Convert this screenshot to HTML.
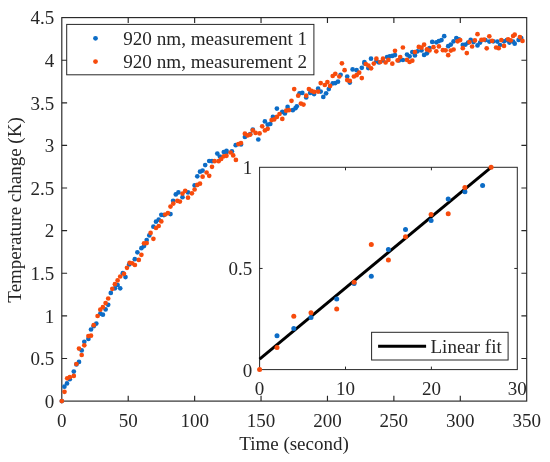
<!DOCTYPE html>
<html><head><meta charset="utf-8"><title>Temperature change</title>
<style>html,body{margin:0;padding:0;background:#fff}svg{display:block}text{font-family:"Liberation Serif","Times New Roman",serif;fill:#262626}</style></head><body>
<svg width="550" height="462" viewBox="0 0 550 462">
<rect width="550" height="462" fill="#fff"/>
<g stroke="#262626" stroke-width="1.15" fill="none">
<rect x="61.8" y="17.6" width="464.9" height="383.5"/>
<path d="M128.21 401.10V395.80M128.21 17.60V22.90M194.63 401.10V395.80M194.63 17.60V22.90M261.04 401.10V395.80M261.04 17.60V22.90M327.46 401.10V395.80M327.46 17.60V22.90M393.87 401.10V395.80M393.87 17.60V22.90M460.29 401.10V395.80M460.29 17.60V22.90M61.80 358.49H67.10M526.70 358.49H521.40M61.80 315.88H67.10M526.70 315.88H521.40M61.80 273.27H67.10M526.70 273.27H521.40M61.80 230.66H67.10M526.70 230.66H521.40M61.80 188.04H67.10M526.70 188.04H521.40M61.80 145.43H67.10M526.70 145.43H521.40M61.80 102.82H67.10M526.70 102.82H521.40M61.80 60.21H67.10M526.70 60.21H521.40"/>
</g>
<text transform="translate(61.80 426.90) scale(1.000 1)" text-anchor="middle" font-size="19.00">0</text>
<text transform="translate(128.21 426.90) scale(1.000 1)" text-anchor="middle" font-size="19.00">50</text>
<text transform="translate(194.63 426.90) scale(1.000 1)" text-anchor="middle" font-size="19.00">100</text>
<text transform="translate(261.04 426.90) scale(1.000 1)" text-anchor="middle" font-size="19.00">150</text>
<text transform="translate(327.46 426.90) scale(1.000 1)" text-anchor="middle" font-size="19.00">200</text>
<text transform="translate(393.87 426.90) scale(1.000 1)" text-anchor="middle" font-size="19.00">250</text>
<text transform="translate(460.29 426.90) scale(1.000 1)" text-anchor="middle" font-size="19.00">300</text>
<text transform="translate(526.70 426.90) scale(1.000 1)" text-anchor="middle" font-size="19.00">350</text>
<text transform="translate(54.20 407.80) scale(1.000 1)" text-anchor="end" font-size="19.00">0</text>
<text transform="translate(54.20 365.19) scale(1.000 1)" text-anchor="end" font-size="19.00">0.5</text>
<text transform="translate(54.20 322.58) scale(1.000 1)" text-anchor="end" font-size="19.00">1</text>
<text transform="translate(54.20 279.97) scale(1.000 1)" text-anchor="end" font-size="19.00">1.5</text>
<text transform="translate(54.20 237.36) scale(1.000 1)" text-anchor="end" font-size="19.00">2</text>
<text transform="translate(54.20 194.74) scale(1.000 1)" text-anchor="end" font-size="19.00">2.5</text>
<text transform="translate(54.20 152.13) scale(1.000 1)" text-anchor="end" font-size="19.00">3</text>
<text transform="translate(54.20 109.52) scale(1.000 1)" text-anchor="end" font-size="19.00">3.5</text>
<text transform="translate(54.20 66.91) scale(1.000 1)" text-anchor="end" font-size="19.00">4</text>
<text transform="translate(54.20 24.30) scale(1.000 1)" text-anchor="end" font-size="19.00">4.5</text>
<text transform="translate(294.00 449.90) scale(1.000 1)" text-anchor="middle" font-size="19.00">Time (second)</text>
<text transform="translate(20.80 209.95) rotate(-90) scale(1.000 1)" text-anchor="middle" font-size="19.00">Temperature change (K)</text>
<g fill="#0c6cc6">
<circle cx="61.8" cy="401.1" r="2.35"/>
<circle cx="64.4" cy="386.7" r="2.35"/>
<circle cx="67.0" cy="383.4" r="2.35"/>
<circle cx="69.8" cy="379.2" r="2.35"/>
<circle cx="73.8" cy="371.6" r="2.35"/>
<circle cx="76.4" cy="364.4" r="2.35"/>
<circle cx="79.0" cy="361.9" r="2.35"/>
<circle cx="81.7" cy="350.4" r="2.35"/>
<circle cx="84.3" cy="341.8" r="2.35"/>
<circle cx="88.4" cy="338.9" r="2.35"/>
<circle cx="91.0" cy="329.5" r="2.35"/>
<circle cx="93.7" cy="326.2" r="2.35"/>
<circle cx="96.3" cy="323.6" r="2.35"/>
<circle cx="100.3" cy="313.7" r="2.35"/>
<circle cx="102.9" cy="314.7" r="2.35"/>
<circle cx="105.6" cy="309.4" r="2.35"/>
<circle cx="108.2" cy="304.8" r="2.35"/>
<circle cx="110.8" cy="292.9" r="2.35"/>
<circle cx="114.9" cy="288.3" r="2.35"/>
<circle cx="117.6" cy="285.0" r="2.35"/>
<circle cx="120.2" cy="288.3" r="2.35"/>
<circle cx="122.8" cy="273.2" r="2.35"/>
<circle cx="125.5" cy="277.1" r="2.35"/>
<circle cx="129.1" cy="264.5" r="2.35"/>
<circle cx="134.8" cy="259.2" r="2.35"/>
<circle cx="137.4" cy="252.3" r="2.35"/>
<circle cx="141.4" cy="248.2" r="2.35"/>
<circle cx="144.0" cy="246.1" r="2.35"/>
<circle cx="146.7" cy="240.0" r="2.35"/>
<circle cx="149.3" cy="235.4" r="2.35"/>
<circle cx="153.4" cy="226.7" r="2.35"/>
<circle cx="156.0" cy="221.7" r="2.35"/>
<circle cx="158.7" cy="219.7" r="2.35"/>
<circle cx="161.3" cy="214.8" r="2.35"/>
<circle cx="163.9" cy="215.1" r="2.35"/>
<circle cx="170.5" cy="214.1" r="2.35"/>
<circle cx="173.1" cy="200.8" r="2.35"/>
<circle cx="175.8" cy="194.4" r="2.35"/>
<circle cx="178.4" cy="192.4" r="2.35"/>
<circle cx="182.5" cy="197.2" r="2.35"/>
<circle cx="188.0" cy="192.4" r="2.35"/>
<circle cx="194.6" cy="185.4" r="2.35"/>
<circle cx="197.3" cy="176.3" r="2.35"/>
<circle cx="200.0" cy="171.7" r="2.35"/>
<circle cx="202.6" cy="170.6" r="2.35"/>
<circle cx="205.2" cy="165.1" r="2.35"/>
<circle cx="209.2" cy="161.0" r="2.35"/>
<circle cx="212.0" cy="161.2" r="2.35"/>
<circle cx="217.3" cy="153.6" r="2.35"/>
<circle cx="219.9" cy="156.6" r="2.35"/>
<circle cx="223.8" cy="152.0" r="2.35"/>
<circle cx="226.5" cy="150.8" r="2.35"/>
<circle cx="226.5" cy="152.3" r="2.35"/>
<circle cx="231.9" cy="151.3" r="2.35"/>
<circle cx="235.7" cy="145.2" r="2.35"/>
<circle cx="241.0" cy="144.4" r="2.35"/>
<circle cx="244.9" cy="137.0" r="2.35"/>
<circle cx="250.2" cy="134.2" r="2.35"/>
<circle cx="252.8" cy="129.6" r="2.35"/>
<circle cx="258.3" cy="139.5" r="2.35"/>
<circle cx="264.9" cy="121.4" r="2.35"/>
<circle cx="267.7" cy="124.7" r="2.35"/>
<circle cx="270.3" cy="123.9" r="2.35"/>
<circle cx="272.9" cy="116.9" r="2.35"/>
<circle cx="276.9" cy="108.6" r="2.35"/>
<circle cx="282.3" cy="111.8" r="2.35"/>
<circle cx="284.9" cy="113.5" r="2.35"/>
<circle cx="287.6" cy="106.9" r="2.35"/>
<circle cx="292.8" cy="110.2" r="2.35"/>
<circle cx="295.5" cy="108.2" r="2.35"/>
<circle cx="296.8" cy="106.3" r="2.35"/>
<circle cx="299.5" cy="93.3" r="2.35"/>
<circle cx="302.3" cy="92.9" r="2.35"/>
<circle cx="306.2" cy="97.4" r="2.35"/>
<circle cx="310.2" cy="92.9" r="2.35"/>
<circle cx="314.1" cy="94.1" r="2.35"/>
<circle cx="318.1" cy="88.7" r="2.35"/>
<circle cx="320.7" cy="91.6" r="2.35"/>
<circle cx="323.3" cy="96.9" r="2.35"/>
<circle cx="326.1" cy="93.3" r="2.35"/>
<circle cx="328.8" cy="89.1" r="2.35"/>
<circle cx="332.7" cy="83.4" r="2.35"/>
<circle cx="335.3" cy="83.1" r="2.35"/>
<circle cx="338.0" cy="81.7" r="2.35"/>
<circle cx="340.6" cy="74.8" r="2.35"/>
<circle cx="347.2" cy="76.5" r="2.35"/>
<circle cx="349.8" cy="82.6" r="2.35"/>
<circle cx="352.6" cy="69.4" r="2.35"/>
<circle cx="356.6" cy="70.2" r="2.35"/>
<circle cx="361.8" cy="67.8" r="2.35"/>
<circle cx="364.4" cy="62.0" r="2.35"/>
<circle cx="364.5" cy="63.6" r="2.35"/>
<circle cx="368.3" cy="68.1" r="2.35"/>
<circle cx="371.0" cy="58.7" r="2.35"/>
<circle cx="376.4" cy="61.2" r="2.35"/>
<circle cx="379.0" cy="62.5" r="2.35"/>
<circle cx="383.0" cy="60.4" r="2.35"/>
<circle cx="387.1" cy="57.1" r="2.35"/>
<circle cx="389.7" cy="56.3" r="2.35"/>
<circle cx="392.3" cy="55.9" r="2.35"/>
<circle cx="395.0" cy="55.1" r="2.35"/>
<circle cx="398.9" cy="60.4" r="2.35"/>
<circle cx="402.9" cy="60.0" r="2.35"/>
<circle cx="407.0" cy="54.6" r="2.35"/>
<circle cx="409.6" cy="56.3" r="2.35"/>
<circle cx="412.3" cy="52.1" r="2.35"/>
<circle cx="414.9" cy="55.4" r="2.35"/>
<circle cx="417.5" cy="51.3" r="2.35"/>
<circle cx="421.5" cy="50.5" r="2.35"/>
<circle cx="424.1" cy="54.9" r="2.35"/>
<circle cx="426.9" cy="53.3" r="2.35"/>
<circle cx="429.5" cy="48.0" r="2.35"/>
<circle cx="432.2" cy="41.9" r="2.35"/>
<circle cx="436.3" cy="42.3" r="2.35"/>
<circle cx="438.9" cy="41.1" r="2.35"/>
<circle cx="441.5" cy="40.1" r="2.35"/>
<circle cx="444.2" cy="36.2" r="2.35"/>
<circle cx="448.2" cy="46.2" r="2.35"/>
<circle cx="450.8" cy="44.6" r="2.35"/>
<circle cx="453.6" cy="41.3" r="2.35"/>
<circle cx="456.3" cy="38.0" r="2.35"/>
<circle cx="458.9" cy="39.3" r="2.35"/>
<circle cx="462.8" cy="44.9" r="2.35"/>
<circle cx="465.5" cy="44.6" r="2.35"/>
<circle cx="468.1" cy="42.6" r="2.35"/>
<circle cx="470.7" cy="39.9" r="2.35"/>
<circle cx="473.5" cy="42.1" r="2.35"/>
<circle cx="477.5" cy="45.4" r="2.35"/>
<circle cx="480.1" cy="42.6" r="2.35"/>
<circle cx="485.4" cy="40.1" r="2.35"/>
<circle cx="489.3" cy="41.6" r="2.35"/>
<circle cx="493.4" cy="41.3" r="2.35"/>
<circle cx="497.4" cy="41.6" r="2.35"/>
<circle cx="500.0" cy="45.0" r="2.35"/>
<circle cx="504.0" cy="41.3" r="2.35"/>
<circle cx="506.8" cy="40.1" r="2.35"/>
<circle cx="509.4" cy="42.6" r="2.35"/>
<circle cx="513.1" cy="41.6" r="2.35"/>
<circle cx="514.7" cy="43.7" r="2.35"/>
<circle cx="518.6" cy="39.9" r="2.35"/>
<circle cx="521.2" cy="38.0" r="2.35"/>
</g>
<g fill="#f74b0c">
<circle cx="61.8" cy="401.1" r="2.35"/>
<circle cx="64.5" cy="391.8" r="2.35"/>
<circle cx="67.2" cy="378.3" r="2.35"/>
<circle cx="69.8" cy="377.2" r="2.35"/>
<circle cx="73.8" cy="375.9" r="2.35"/>
<circle cx="76.4" cy="364.0" r="2.35"/>
<circle cx="79.0" cy="348.6" r="2.35"/>
<circle cx="81.7" cy="355.0" r="2.35"/>
<circle cx="84.3" cy="345.3" r="2.35"/>
<circle cx="88.4" cy="336.1" r="2.35"/>
<circle cx="91.0" cy="335.7" r="2.35"/>
<circle cx="93.7" cy="325.2" r="2.35"/>
<circle cx="97.6" cy="316.0" r="2.35"/>
<circle cx="100.3" cy="309.7" r="2.35"/>
<circle cx="102.9" cy="307.2" r="2.35"/>
<circle cx="105.6" cy="303.1" r="2.35"/>
<circle cx="108.2" cy="298.5" r="2.35"/>
<circle cx="112.3" cy="288.8" r="2.35"/>
<circle cx="114.9" cy="284.2" r="2.35"/>
<circle cx="117.6" cy="280.4" r="2.35"/>
<circle cx="120.2" cy="276.5" r="2.35"/>
<circle cx="124.0" cy="273.8" r="2.35"/>
<circle cx="127.0" cy="267.8" r="2.35"/>
<circle cx="129.6" cy="262.8" r="2.35"/>
<circle cx="132.2" cy="263.3" r="2.35"/>
<circle cx="134.9" cy="265.0" r="2.35"/>
<circle cx="138.8" cy="259.9" r="2.35"/>
<circle cx="141.4" cy="254.8" r="2.35"/>
<circle cx="144.0" cy="243.3" r="2.35"/>
<circle cx="146.7" cy="243.1" r="2.35"/>
<circle cx="150.6" cy="232.9" r="2.35"/>
<circle cx="153.4" cy="238.8" r="2.35"/>
<circle cx="156.0" cy="228.0" r="2.35"/>
<circle cx="158.7" cy="226.0" r="2.35"/>
<circle cx="161.3" cy="221.4" r="2.35"/>
<circle cx="165.2" cy="214.5" r="2.35"/>
<circle cx="167.9" cy="213.2" r="2.35"/>
<circle cx="170.5" cy="206.6" r="2.35"/>
<circle cx="173.3" cy="203.6" r="2.35"/>
<circle cx="177.3" cy="200.8" r="2.35"/>
<circle cx="179.9" cy="201.6" r="2.35"/>
<circle cx="182.5" cy="193.6" r="2.35"/>
<circle cx="185.2" cy="190.8" r="2.35"/>
<circle cx="188.0" cy="197.7" r="2.35"/>
<circle cx="191.9" cy="193.3" r="2.35"/>
<circle cx="194.6" cy="189.5" r="2.35"/>
<circle cx="197.3" cy="184.9" r="2.35"/>
<circle cx="200.0" cy="183.7" r="2.35"/>
<circle cx="202.6" cy="176.7" r="2.35"/>
<circle cx="206.6" cy="172.5" r="2.35"/>
<circle cx="209.2" cy="175.8" r="2.35"/>
<circle cx="212.0" cy="166.8" r="2.35"/>
<circle cx="214.6" cy="161.2" r="2.35"/>
<circle cx="218.6" cy="161.2" r="2.35"/>
<circle cx="221.2" cy="159.0" r="2.35"/>
<circle cx="223.8" cy="156.3" r="2.35"/>
<circle cx="226.5" cy="155.8" r="2.35"/>
<circle cx="230.6" cy="152.5" r="2.35"/>
<circle cx="233.2" cy="155.4" r="2.35"/>
<circle cx="235.9" cy="159.9" r="2.35"/>
<circle cx="238.4" cy="144.1" r="2.35"/>
<circle cx="241.0" cy="143.1" r="2.35"/>
<circle cx="244.9" cy="133.7" r="2.35"/>
<circle cx="247.6" cy="135.4" r="2.35"/>
<circle cx="250.2" cy="134.6" r="2.35"/>
<circle cx="252.8" cy="130.4" r="2.35"/>
<circle cx="255.6" cy="132.9" r="2.35"/>
<circle cx="259.6" cy="133.4" r="2.35"/>
<circle cx="262.2" cy="126.3" r="2.35"/>
<circle cx="264.9" cy="130.4" r="2.35"/>
<circle cx="267.7" cy="128.8" r="2.35"/>
<circle cx="271.6" cy="120.1" r="2.35"/>
<circle cx="274.2" cy="119.4" r="2.35"/>
<circle cx="276.9" cy="116.9" r="2.35"/>
<circle cx="279.5" cy="114.0" r="2.35"/>
<circle cx="282.3" cy="118.9" r="2.35"/>
<circle cx="286.2" cy="110.7" r="2.35"/>
<circle cx="288.9" cy="110.2" r="2.35"/>
<circle cx="291.5" cy="100.8" r="2.35"/>
<circle cx="294.2" cy="89.1" r="2.35"/>
<circle cx="298.2" cy="95.7" r="2.35"/>
<circle cx="300.9" cy="103.6" r="2.35"/>
<circle cx="303.5" cy="104.6" r="2.35"/>
<circle cx="306.2" cy="95.7" r="2.35"/>
<circle cx="308.9" cy="89.1" r="2.35"/>
<circle cx="311.5" cy="90.8" r="2.35"/>
<circle cx="314.1" cy="91.9" r="2.35"/>
<circle cx="318.1" cy="91.6" r="2.35"/>
<circle cx="320.7" cy="83.1" r="2.35"/>
<circle cx="324.8" cy="85.0" r="2.35"/>
<circle cx="327.4" cy="82.1" r="2.35"/>
<circle cx="330.1" cy="85.9" r="2.35"/>
<circle cx="332.7" cy="76.0" r="2.35"/>
<circle cx="335.3" cy="73.8" r="2.35"/>
<circle cx="339.3" cy="76.5" r="2.35"/>
<circle cx="341.9" cy="63.3" r="2.35"/>
<circle cx="344.6" cy="70.2" r="2.35"/>
<circle cx="347.2" cy="80.1" r="2.35"/>
<circle cx="349.8" cy="80.9" r="2.35"/>
<circle cx="353.9" cy="76.5" r="2.35"/>
<circle cx="356.6" cy="75.2" r="2.35"/>
<circle cx="359.2" cy="72.7" r="2.35"/>
<circle cx="361.8" cy="78.1" r="2.35"/>
<circle cx="365.8" cy="64.0" r="2.35"/>
<circle cx="368.4" cy="65.6" r="2.35"/>
<circle cx="371.1" cy="68.3" r="2.35"/>
<circle cx="373.8" cy="63.6" r="2.35"/>
<circle cx="376.4" cy="58.7" r="2.35"/>
<circle cx="380.3" cy="62.0" r="2.35"/>
<circle cx="383.0" cy="58.7" r="2.35"/>
<circle cx="385.6" cy="62.5" r="2.35"/>
<circle cx="388.4" cy="59.9" r="2.35"/>
<circle cx="392.3" cy="63.7" r="2.35"/>
<circle cx="395.0" cy="50.8" r="2.35"/>
<circle cx="397.6" cy="60.4" r="2.35"/>
<circle cx="400.2" cy="57.1" r="2.35"/>
<circle cx="402.9" cy="47.5" r="2.35"/>
<circle cx="407.0" cy="59.9" r="2.35"/>
<circle cx="409.6" cy="62.0" r="2.35"/>
<circle cx="412.3" cy="60.7" r="2.35"/>
<circle cx="414.9" cy="52.1" r="2.35"/>
<circle cx="418.8" cy="46.9" r="2.35"/>
<circle cx="421.5" cy="47.7" r="2.35"/>
<circle cx="424.1" cy="44.7" r="2.35"/>
<circle cx="426.9" cy="49.4" r="2.35"/>
<circle cx="429.5" cy="50.5" r="2.35"/>
<circle cx="433.5" cy="47.2" r="2.35"/>
<circle cx="436.3" cy="51.3" r="2.35"/>
<circle cx="438.9" cy="46.4" r="2.35"/>
<circle cx="442.9" cy="50.2" r="2.35"/>
<circle cx="445.6" cy="50.3" r="2.35"/>
<circle cx="448.2" cy="55.2" r="2.35"/>
<circle cx="450.8" cy="50.6" r="2.35"/>
<circle cx="453.6" cy="49.5" r="2.35"/>
<circle cx="457.6" cy="41.3" r="2.35"/>
<circle cx="460.2" cy="40.1" r="2.35"/>
<circle cx="462.8" cy="48.2" r="2.35"/>
<circle cx="466.8" cy="53.1" r="2.35"/>
<circle cx="469.4" cy="42.1" r="2.35"/>
<circle cx="472.1" cy="46.5" r="2.35"/>
<circle cx="474.9" cy="40.4" r="2.35"/>
<circle cx="477.5" cy="34.2" r="2.35"/>
<circle cx="481.4" cy="39.9" r="2.35"/>
<circle cx="484.1" cy="39.6" r="2.35"/>
<circle cx="486.7" cy="48.3" r="2.35"/>
<circle cx="489.3" cy="36.3" r="2.35"/>
<circle cx="492.1" cy="40.9" r="2.35"/>
<circle cx="496.1" cy="47.5" r="2.35"/>
<circle cx="498.7" cy="48.2" r="2.35"/>
<circle cx="501.3" cy="40.1" r="2.35"/>
<circle cx="504.0" cy="45.9" r="2.35"/>
<circle cx="508.1" cy="39.3" r="2.35"/>
<circle cx="510.7" cy="40.4" r="2.35"/>
<circle cx="513.1" cy="36.0" r="2.35"/>
<circle cx="514.7" cy="34.7" r="2.35"/>
<circle cx="519.9" cy="37.1" r="2.35"/>
<circle cx="522.5" cy="40.9" r="2.35"/>
</g>
<rect x="66.7" y="24.4" width="247.2" height="50.4" fill="#fff" stroke="#262626" stroke-width="1"/>
<circle cx="95.5" cy="38.3" r="2.4" fill="#0c6cc6"/>
<circle cx="95.5" cy="61.6" r="2.4" fill="#f74b0c"/>
<text transform="translate(123.20 44.90) scale(1.000 1)" text-anchor="start" font-size="19.15">920 nm, measurement 1</text>
<text transform="translate(123.20 68.20) scale(1.000 1)" text-anchor="start" font-size="19.15">920 nm, measurement 2</text>
<rect x="259.6" y="167.3" width="257.7" height="202.3" fill="#fff" stroke="#262626" stroke-width="1"/>
<path d="M345.50 369.60V366.60M345.50 167.30V170.30M431.40 369.60V366.60M431.40 167.30V170.30M259.60 268.45H262.60M517.30 268.45H514.30" stroke="#262626" stroke-width="1" fill="none"/>
<text transform="translate(259.60 394.50) scale(1.000 1)" text-anchor="middle" font-size="19.00">0</text>
<text transform="translate(345.50 394.50) scale(1.000 1)" text-anchor="middle" font-size="19.00">10</text>
<text transform="translate(431.40 394.50) scale(1.000 1)" text-anchor="middle" font-size="19.00">20</text>
<text transform="translate(517.30 394.50) scale(1.000 1)" text-anchor="middle" font-size="19.00">30</text>
<text transform="translate(252.20 376.90) scale(1.000 1)" text-anchor="end" font-size="19.00">0</text>
<text transform="translate(252.20 275.25) scale(1.000 1)" text-anchor="end" font-size="19.00">0.5</text>
<text transform="translate(252.20 173.60) scale(1.000 1)" text-anchor="end" font-size="19.00">1</text>
<line x1="259.60" y1="359.08" x2="491.10" y2="167.30" stroke="#000" stroke-width="3"/>
<g fill="#0c6cc6">
<circle cx="277.0" cy="335.8" r="2.5"/>
<circle cx="293.8" cy="328.5" r="2.5"/>
<circle cx="311.0" cy="317.6" r="2.5"/>
<circle cx="336.7" cy="299.0" r="2.5"/>
<circle cx="354.1" cy="283.4" r="2.5"/>
<circle cx="371.3" cy="276.3" r="2.5"/>
<circle cx="388.4" cy="249.6" r="2.5"/>
<circle cx="405.5" cy="229.4" r="2.5"/>
<circle cx="431.1" cy="220.5" r="2.5"/>
<circle cx="448.2" cy="199.1" r="2.5"/>
<circle cx="464.9" cy="191.8" r="2.5"/>
<circle cx="482.6" cy="185.5" r="2.5"/>
</g>
<g fill="#f74b0c">
<circle cx="259.6" cy="369.6" r="2.5"/>
<circle cx="277.0" cy="347.5" r="2.5"/>
<circle cx="293.8" cy="316.2" r="2.5"/>
<circle cx="311.0" cy="312.8" r="2.5"/>
<circle cx="336.7" cy="309.1" r="2.5"/>
<circle cx="354.1" cy="282.2" r="2.5"/>
<circle cx="371.3" cy="244.4" r="2.5"/>
<circle cx="388.4" cy="260.0" r="2.5"/>
<circle cx="405.5" cy="236.7" r="2.5"/>
<circle cx="431.1" cy="214.4" r="2.5"/>
<circle cx="448.2" cy="213.8" r="2.5"/>
<circle cx="464.9" cy="187.5" r="2.5"/>
<circle cx="491.1" cy="167.3" r="2.5"/>
</g>
<rect x="371.6" y="332.3" width="136.5" height="27.7" fill="#fff" stroke="#262626" stroke-width="1"/>
<line x1="378.1" y1="346.2" x2="426.1" y2="346.2" stroke="#000" stroke-width="3"/>
<text transform="translate(430.50 353.10) scale(1.000 1)" text-anchor="start" font-size="19.00">Linear fit</text>
</svg></body></html>
